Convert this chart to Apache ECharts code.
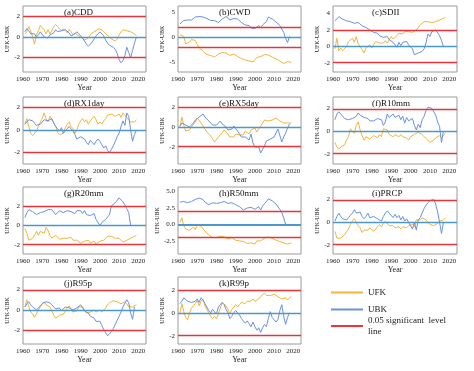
<!DOCTYPE html>
<html><head><meta charset="utf-8">
<script src="https://cdn.jsdelivr.net/npm/echarts@6/dist/echarts.min.js"></script>
<style>html,body{margin:0;padding:0;background:#fff}#c{width:474px;height:371px}</style>
</head><body><div id="c"></div>
<script>
// ---------- data ----------
const years = [1961,1962,1963,1964,1965,1966,1967,1968,1969,1970,1971,1972,1973,1974,1975,1976,1977,1978,1979,1980,
 1981,1982,1983,1984,1985,1986,1987,1988,1989,1990,1991,1992,1993,1994,1995,1996,1997,1998,1999,2000,
 2001,2002,2003,2004,2005,2006,2007,2008,2009,2010,2011,2012,2013,2014,2015,2016,2017,2018,2019];
const xTickLabels = [1960,1970,1980,1990,2000,2010,2020];
const panelTitles = ['(a)CDD','(b)CWD','(c)SDII','(d)RX1day','(e)RX5day','(f)R10mm','(g)R20mm','(h)R50mm','(i)PRCP','(j)R95p','(k)R99p'];
const sigLevel = 1.96;

const CDD_UFK = [0.3,0.5,1.0,0.6,0.0,-0.7,0.2,0.6,1.1,1.2, 0.7,0.3,0.7,0.3,0.6,1.0,1.2,1.0,0.8,0.6, 0.8,0.6,0.4,0.7,0.5,0.2,0.4,0.3,0.1,0.0, -0.1,-0.3,-0.4,-0.1,0.2,0.4,0.5,0.6,0.8,0.8, 0.7,0.5,0.3,0.2,0.0,-0.2,-0.3,-0.4,-0.2,0.2, 0.5,0.7,0.8,0.6,0.7,0.5,0.6,0.3,0.1];
const CDD_UBK = [0.5,0.8,0.6,0.3,0.2,0.3,0.0,0.2,0.5,0.4, 0.0,0.1,-0.1,0.2,0.1,0.4,0.7,0.5,0.4,0.6, 0.5,0.7,0.8,0.4,0.1,0.0,0.3,0.5,0.3,0.1, -0.1,-0.4,-0.7,-0.9,-0.8,-0.5,-0.2,0.1,0.3,0.5, 0.4,0.1,-0.3,-0.6,-0.8,-0.9,-1.0,-1.2,-1.6,-2.2, -2.5,-2.3,-1.8,-1.0,-1.5,-2.0,-1.3,-0.6,0.0];
const CWD_UFK = [0.6,1.0,0.2,-1.3,-1.1,-0.9,-0.4,-0.1,-0.6,-1.4, -2.0,-2.4,-2.8,-3.1,-3.4,-3.3,-3.6,-3.6,-3.9,-3.6, -3.3,-3.2,-3.0,-2.8,-3.1,-3.4,-3.6,-3.4,-3.3,-3.6, -3.8,-4.0,-4.2,-4.3,-4.5,-4.6,-4.7,-4.6,-4.9,-4.5, -4.0,-4.0,-3.8,-3.6,-3.4,-3.2,-3.5,-3.7,-3.9,-4.1, -4.3,-4.5,-4.7,-4.9,-5.2,-5.0,-4.8,-4.9,-5.0];
const CWD_UBK = [2.7,3.0,3.4,3.7,3.5,3.3,3.5,3.8,4.1,4.3, 4.2,4.0,4.1,4.0,3.8,3.6,3.4,3.2,3.4,3.1, 3.0,3.3,3.7,4.0,4.2,3.8,3.5,3.4,3.8,4.1, 3.7,3.3,3.0,2.8,2.5,2.3,2.4,1.9,1.5,1.8, 2.1,2.4,1.9,2.5,2.4,3.2,4.1,3.9,3.7,3.4, 3.1,2.8,2.4,2.0,1.0,-0.2,-1.0,0.2,null];
const SDII_UFK = [-0.3,1.0,-0.5,-0.2,-0.5,-0.3,0.0,0.6,0.8,1.0, 0.5,1.2,0.3,0.0,-0.4,-0.8,-0.2,0.0,0.2,-0.2, 0.2,0.6,0.5,0.4,0.6,0.4,0.7,0.4,0.8,1.2, 0.9,0.7,1.3,1.6,1.5,1.5,1.8,2.0,1.8,1.6, 1.7,1.9,2.0,2.3,2.6,2.8,3.0,3.0,3.0,3.0, 2.9,2.9,3.0,3.1,3.2,3.3,3.4,3.5,null];
const SDII_UBK = [3.1,3.3,3.6,3.4,3.3,3.2,3.1,3.0,3.0,3.0, 2.8,3.0,2.9,2.7,2.5,2.3,2.3,2.2,2.0,1.9, 1.7,1.8,1.6,1.3,1.2,1.1,0.9,1.2,0.8,0.6, 0.5,0.3,-0.1,0.5,0.1,0.5,0.4,0.6,0.2,0.4, -0.3,-1.0,-0.9,-0.8,-1.0,-0.6,-0.3,0.4,1.5,1.2, 1.8,1.9,2.0,1.9,1.3,0.7,0.0,null,null];
const RX1_UFK = [0.5,1.0,0.3,-0.3,-0.5,-0.6,-0.1,0.3,0.7,1.0, 1.5,1.0,0.7,1.2,1.1,0.6,0.3,-0.2,-0.4,-0.5, -0.3,0.2,0.5,0.7,0.3,0.1,-0.3,0.0,0.5,0.8, 1.0,0.7,0.9,0.5,0.8,1.0,1.2,0.9,0.5,0.7, 0.5,0.8,1.0,1.3,1.3,1.4,1.3,1.2,1.3,1.4, 1.1,1.5,1.3,1.1,0.9,0.7,0.7,0.7,0.9];
const RX1_UBK = [0.5,0.7,0.9,1.0,0.8,0.6,0.4,0.3,0.5,0.7, 0.9,1.0,0.8,0.8,1.0,0.6,0.3,0.1,-0.1,0.2, -0.3,-0.1,0.1,0.3,0.1,-0.1,-0.4,-0.8,-0.9,-0.6, -0.6,-0.8,-1.1,-1.3,-0.9,-1.1,-1.3,-1.0,-0.8,-1.0, -1.3,-1.6,-1.4,-1.8,-2.0,-1.7,-1.4,-1.0,-0.6,-0.3, 0.3,0.8,0.4,1.5,1.2,0.0,-1.0,-0.4,0.0];
const RX5_UFK = [0.0,1.0,0.2,-0.4,-0.6,-0.3,0.0,0.2,0.5,0.9, 0.8,0.4,0.5,-0.2,-0.5,-0.7,-0.9,-1.2,-1.5,-1.3, -1.0,-0.8,-0.6,-0.3,-0.4,-0.7,-1.0,-1.2,-1.0,-0.7, -0.6,-0.8,-1.0,-0.8,-0.4,-0.4,-0.7,-0.3,-0.4,-0.1, -0.5,-0.2,0.1,0.4,0.7,0.7,0.6,0.7,0.7,0.8, 0.9,0.8,0.6,0.5,0.4,0.5,0.4,0.3,0.4];
const RX5_UBK = [0.1,0.4,0.4,0.2,0.1,0.0,0.2,0.4,0.7,0.9, 1.0,1.2,1.3,1.0,0.8,0.6,0.4,0.2,0.0,0.2, 0.4,0.6,0.3,0.1,0.0,-0.3,-0.4,-0.2,0.1,-0.1, -0.4,-0.6,-1.0,-1.1,-1.0,-0.9,-1.3,-0.7,-1.6,-2.0, -2.2,-2.0,-2.6,-2.4,-1.9,-1.4,-1.3,-1.2,-1.1,-1.0, -0.6,-0.2,0.0,-1.5,-1.0,-0.6,-0.1,0.3,null];
const R10_UFK = [-1.0,-1.4,-1.6,-1.4,-1.5,-1.2,-0.8,-0.5,0.2,0.0, -0.2,0.5,0.8,0.1,-0.4,-0.8,-0.5,-0.6,-0.7,-0.8, -0.4,-0.5,-0.6,-0.3,-0.5,0.2,0.1,0.1,-0.3,-0.4, -0.5,-0.3,-0.4,-0.5,-0.3,-0.5,-0.6,-0.6,-0.8,-0.5, -0.4,-0.3,-0.2,-0.1,-0.1,-0.3,-0.5,-0.6,-0.8,-1.0, -0.9,-0.8,-0.6,-0.5,-0.4,-0.6,-0.4,-0.2,null];
const R10_UBK = [1.0,1.5,1.7,1.5,1.3,1.1,1.0,1.0,1.0,1.1, 1.1,1.3,1.6,1.4,1.5,1.2,1.2,1.1,0.9,1.0, 0.9,0.8,1.1,1.2,1.0,0.5,0.8,1.5,1.2,1.1, 1.5,1.2,1.3,1.4,1.0,1.3,0.7,1.2,0.9,1.0, 1.1,0.5,0.1,0.6,0.3,1.0,1.3,1.8,2.1,2.0, 2.0,2.0,1.4,0.8,0.4,-1.0,0.0,null,null];
const R20_UFK = [-0.3,-0.8,-1.5,-1.4,-1.3,-1.0,-0.6,-1.0,-0.6,-0.4, -0.8,-0.2,-0.5,-1.0,-1.3,-1.5,-1.0,-1.2,-1.4,-1.6, -1.3,-1.2,-1.3,-1.5,-1.2,-1.5,-1.4,-1.5,-1.6,-1.8, -1.6,-1.6,-1.7,-1.5,-1.8,-1.7,-1.6,-1.9,-1.8,-1.6, -1.4,-1.5,-1.3,-1.1,-1.0,-1.1,-1.1,-1.3,-1.1,-1.3, -1.5,-1.7,-1.6,-1.5,-1.4,-1.3,-1.2,-1.1,-1.0];
const R20_UBK = [0.8,1.3,1.6,1.7,1.4,1.2,1.1,1.2,1.3,1.3, 1.4,1.5,1.6,1.8,1.6,1.4,1.1,1.3,1.5,1.4, 1.3,1.4,1.5,1.3,1.4,1.6,1.2,1.5,1.7,1.5, 1.2,1.5,1.1,1.3,1.0,0.9,1.2,0.6,0.8,0.0, 0.3,0.3,0.6,0.5,1.1,2.0,2.2,2.3,2.5,2.8, 2.6,2.4,2.1,1.7,1.3,0.0,null,null,null];
const R50_UFK = [0.3,1.0,-0.2,-0.7,-0.5,-0.9,-0.7,-0.4,-0.8,-0.1, 0.0,-0.3,-0.6,-1.0,-1.3,-1.6,-1.9,-2.0,-1.8,-2.0, -2.0,-1.8,-1.5,-1.9,-2.1,-2.2,-2.1,-2.0,-2.3,-2.4, -2.2,-2.5,-2.8,-2.6,-2.7,-2.9,-2.6,-2.8,-2.9,-3.0, -2.5,-2.6,-2.5,-2.3,-2.1,-1.8,-1.9,-2.0,-2.1,-2.2, -2.4,-2.5,-2.6,-2.7,-2.8,-2.9,-3.0,-2.9,-2.8];
const R50_UBK = [3.4,3.6,3.5,3.4,3.3,3.3,3.5,3.6,3.8,3.9, 4.0,3.9,3.8,3.4,3.2,3.0,3.2,3.3,3.0,3.2, 3.5,3.3,3.0,3.5,3.4,3.2,3.4,3.3,3.1,3.0, 2.9,2.7,2.5,2.2,2.4,2.5,2.2,2.6,2.5,2.3, 2.0,2.7,2.2,2.8,3.1,3.5,3.9,3.7,3.6,3.4, 3.1,2.8,2.3,1.8,1.0,0.0,null,null,null];
const PRCP_UFK = [-0.8,-1.4,-1.5,-1.4,-1.5,-1.1,-0.8,-0.6,-0.2,0.1, 0.3,0.4,-0.3,-0.5,-0.9,-0.7,-0.6,-0.7,-0.5,-0.6, -0.8,-0.7,-0.4,-0.2,-0.4,-0.1,0.1,0.1,-0.3,-0.2, -0.3,-0.5,-0.4,-0.4,-0.6,-0.4,-0.4,-0.5,-0.3,-0.3, -0.2,-0.4,0.2,0.3,0.2,0.4,0.5,0.2,0.0,-0.2, -0.3,-0.3,-0.2,-0.1,0.1,0.0,0.2,0.4,null];
const PRCP_UBK = [0.1,0.5,0.8,0.5,0.3,0.2,0.2,0.4,0.6,0.8, 1.1,0.8,0.8,0.9,0.5,0.3,0.5,0.8,0.4,0.3, 0.5,0.6,0.3,0.4,0.1,0.5,0.8,1.0,0.8,0.9, 0.4,0.7,0.4,0.6,0.2,0.5,0.1,0.3,0.0,-0.3, -0.6,0.0,-0.7,0.2,0.4,0.8,1.2,1.5,1.7,1.9, 2.0,2.0,1.6,0.9,0.0,-1.0,0.0,null,null];
const R95_UFK = [0.3,1.0,0.3,-0.2,-0.4,-0.7,-0.6,0.0,0.3,0.6, 0.8,0.5,0.6,0.3,-0.1,-0.5,-0.8,-0.7,-0.5,-0.5, -0.4,-0.1,0.2,0.4,0.1,-0.2,-0.3,-0.1,0.3,0.4, 0.3,0.0,-0.3,-0.2,-0.2,-0.3,0.0,-0.2,-0.2,0.0, -0.2,0.0,0.2,0.5,0.7,0.8,0.9,0.9,0.8,0.7, 0.6,0.7,0.8,0.6,0.3,0.3,0.3,0.4,0.5];
const R95_UBK = [0.3,0.6,0.8,0.5,0.3,0.2,0.0,0.2,0.4,0.6, 0.7,0.8,0.9,0.7,0.5,0.3,0.1,0.2,0.2,-0.1, 0.1,0.3,0.4,0.2,0.3,0.0,0.0,0.2,0.3,0.5, 0.2,-0.1,-0.2,-0.3,-0.6,-0.5,-0.8,-1.1,-1.2,-1.1, -1.5,-1.9,-2.2,-2.5,-2.3,-2.1,-1.8,-1.4,-1.0,-0.6, -0.2,0.3,0.2,1.0,0.7,-0.3,-0.9,0.3,null];
const R99_UFK = [0.0,0.8,0.1,-0.4,-0.6,0.0,0.4,0.3,0.8,1.1, 0.6,1.0,1.2,0.6,0.3,0.0,-0.3,-0.5,-0.3,-0.5, -0.1,0.4,0.9,0.8,0.6,0.3,-0.1,0.3,0.5,0.7, 0.5,0.7,0.9,1.0,0.8,1.0,1.0,1.0,1.2,1.0, 1.1,1.2,1.4,1.5,1.7,1.5,1.4,1.5,1.5,1.6, 1.5,1.4,1.3,1.2,1.3,1.3,1.1,1.3,1.4];
const R99_UBK = [0.8,1.0,1.3,1.4,1.0,1.0,0.9,0.8,1.0,1.2, 0.9,1.3,1.1,0.8,0.5,0.2,0.0,0.3,0.1,-0.1, 0.5,0.7,0.9,0.7,0.3,0.0,-0.5,-0.3,0.0,0.2, 0.3,-0.2,-0.5,-0.7,-0.9,-0.7,-0.6,-1.2,-0.8,-1.2, -1.5,-1.3,-1.7,-1.3,-1.0,-1.2,-0.5,0.1,-0.4,-0.6, -0.8,-0.6,0.2,0.7,-0.3,-1.0,-0.4,0.0,null];

const ufkList = [CDD_UFK,CWD_UFK,SDII_UFK,RX1_UFK,RX5_UFK,R10_UFK,R20_UFK,R50_UFK,PRCP_UFK,R95_UFK,R99_UFK];
const ubkList = [CDD_UBK,CWD_UBK,SDII_UBK,RX1_UBK,RX5_UBK,R10_UBK,R20_UBK,R50_UBK,PRCP_UBK,R95_UBK,R99_UBK];
const yLimits = [[-3.4,3.0],[-6.9,6.3],[-3.1,4.9],[-3.0,2.9],[-3.7,3.0],[-2.9,3.0],[-2.9,3.9],[-4.5,5.7],[-2.8,3.1],[-3.3,3.2],[-2.7,3.1]];
const yTickSteps = [2,5,2,2,2,2,2,2.5,2,2,2];
const legendNames = ['UFK','UBK','0.05 significant  level line'];

// ---------- layout & style ----------
const FONT = 'Liberation Serif, Times New Roman, serif';
const C_UFK = '#F3B53A', C_UBK = '#6A92DE', C_RED = '#E8343A', C_ZERO = '#4B98CF';
const colLeft = [23,178,333], colWidth = [123,123,124];
const rowTop = [6,97,187,277], rowHeight = [66,67,67,67];
const titleLeft = [64,219,372];
const LINE_ICON = 'path://M0,0H32V2H0Z';

const grids = [], xAxes = [], yAxes = [], titles = [], series = [];
const pairs = arr => years.map((y,i)=>[y,arr[i]]).filter(p=>p[1]!==null);

panelTitles.forEach((t,i)=>{
  const r = Math.floor(i/3), c = i%3;
  grids.push({left:colLeft[c], top:rowTop[r], width:colWidth[c], height:rowHeight[r],
    show:true, borderColor:'#9a9a9a', borderWidth:1, backgroundColor:'transparent'});
  xAxes.push({type:'value', gridIndex:i, min:xTickLabels[0], max:2024, interval:10,
    axisLine:{show:false}, axisTick:{show:false}, splitLine:{show:false},
    axisLabel:{fontFamily:FONT, fontSize:7, color:'#222', margin:4, showMinLabel:true, showMaxLabel:false,
      formatter: v => String(v)},
    name:'Year', nameLocation:'middle', nameGap:11,
    nameTextStyle:{fontFamily:FONT, fontSize:8, color:'#222'}});
  const st = yTickSteps[i];
  yAxes.push({type:'value', gridIndex:i, min:yLimits[i][0], max:yLimits[i][1],
    minInterval:st, maxInterval:st, splitNumber:3,
    axisLine:{show:false}, axisTick:{show:false}, splitLine:{show:false},
    axisLabel:{fontFamily:FONT, fontSize:7, color:'#222', margin:3, showMinLabel:false, showMaxLabel:false,
      formatter: v => st % 1 ? v.toFixed(1) : String(v)},
    name:'UFK-UBK', nameLocation:'middle', nameGap:10, nameRotate:90,
    nameTextStyle:{fontFamily:FONT, fontSize:6, color:'#222'}});
  titles.push({text:t, left:titleLeft[c], top:rowTop[r]+2, padding:0,
    textStyle:{fontFamily:FONT, fontSize:9, fontWeight:'normal', color:'#111'}});
  series.push({type:'line', name:'UFK', xAxisIndex:i, yAxisIndex:i, data:pairs(ufkList[i]),
    symbol:'none', lineStyle:{color:C_UFK, width:1}, itemStyle:{color:C_UFK},
    markLine:{silent:true, symbol:'none', label:{show:false}, animation:false,
      data:[{yAxis:0, lineStyle:{color:C_ZERO, width: i===7?2:1.3, type:'solid'}},
            {yAxis:sigLevel, lineStyle:{color:C_RED, width:1.3, type:'solid'}},
            {yAxis:-sigLevel, lineStyle:{color:C_RED, width:1.3, type:'solid'}}]}});
  series.push({type:'line', name:'UBK', xAxisIndex:i, yAxisIndex:i, data:pairs(ubkList[i]),
    symbol:'none', lineStyle:{color:C_UBK, width:1}, itemStyle:{color:C_UBK}});
});
series.push({type:'line', name:legendNames[2], xAxisIndex:0, yAxisIndex:0, data:[],
  symbol:'none', lineStyle:{color:C_RED, width:1.5}, itemStyle:{color:C_RED}});

const legendText = {fontFamily:FONT, fontSize:9, color:'#222', lineHeight:11};
const chart = echarts.init(document.getElementById('c'), null, {renderer:'canvas'});
chart.setOption({
  animation:false,
  backgroundColor:'#fff',
  title:titles, grid:grids, xAxis:xAxes, yAxis:yAxes, series:series,
  legend:[
    {data:legendNames.slice(0,2), orient:'vertical', left:331, top:287, padding:0,
     itemWidth:32, itemHeight:10, itemGap:6, icon:LINE_ICON, textStyle:legendText},
    {data:[legendNames[2]], orient:'vertical', left:331, top:315, padding:0,
     itemWidth:32, itemHeight:10, icon:LINE_ICON, textStyle:legendText,
     formatter: () => '0.05 significant  level\nline'}
  ]
});
</script></body></html>
